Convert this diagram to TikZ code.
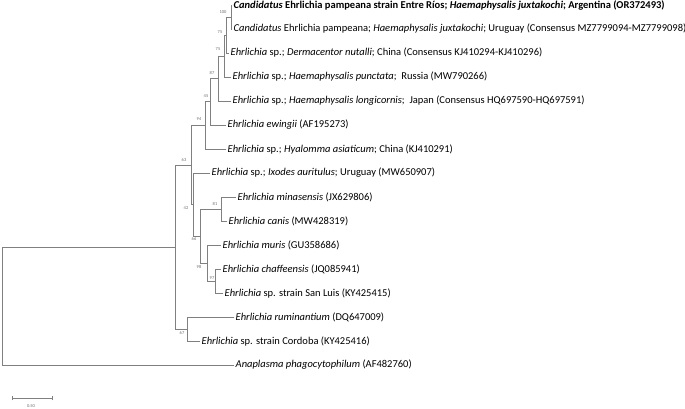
\documentclass[tikz,border=0pt]{standalone}
\usepackage{fontspec}
\setmainfont{Carlito}
\definecolor{linegray}{RGB}{128,128,128}
\definecolor{bsgray}{RGB}{110,110,110}
\begin{document}
\begin{tikzpicture}[x=1pt,y=-1pt,
  br/.style={draw=linegray, line width=0.9pt, line cap=rect},
  lab/.style={anchor=west, inner xsep=1.5pt, inner ysep=0pt, font=\fontsize{10.5}{12}\selectfont, text=black},
  bs/.style={font=\fontsize{4.5}{5}\selectfont, text=bsgray, inner sep=0pt}]
\useasboundingbox (0,0) rectangle (685,408);
% internal nodes
\coordinate (n100) at (231,17);
\coordinate (n75a) at (226,35);
\coordinate (n75b) at (224,56);
\coordinate (n87)  at (218,78.5);
\coordinate (n45)  at (210,101.75);
\coordinate (n94)  at (205,125.4);
\coordinate (n81)  at (221,209);
\coordinate (n97)  at (215,281);
\coordinate (n98)  at (207,263);
\coordinate (n66)  at (200,236);
\coordinate (n42)  at (193,204.5);
\coordinate (n63)  at (191,165);
\coordinate (n67)  at (187,329);
\coordinate (nin)  at (175,247);
\coordinate (root) at (2,306);
% leaves
\node[lab] (l1) at (232,5) {\textbf{\textit{Candidatus} Ehrlichia pampeana strain Entre Ríos; \textit{Haemaphysalis juxtakochi}; Argentina (OR372493)}};
\node[lab] (l2) at (232,29) {\textit{Candidatus} Ehrlichia pampeana; \textit{Haemaphysalis juxtakochi}; Uruguay (Consensus MZ7799094-MZ7799098)};
\node[lab] (l3) at (229,53) {\textit{Ehrlichia} sp.; \textit{Dermacentor nutalli}; China (Consensus KJ410294-KJ410296)};
\node[lab] (l4) at (231,77) {\textit{Ehrlichia} sp.; \textit{Haemaphysalis punctata};\ \ Russia (MW790266)};
\node[lab] (l5) at (231,101) {\textit{Ehrlichia} sp.; \textit{Haemaphysalis longicornis};\ \ Japan (Consensus HQ697590-HQ697591)};
\node[lab] (l6) at (226,125) {\textit{Ehrlichia ewingii} (AF195273)};
\node[lab] (l7) at (226,149) {\textit{Ehrlichia} sp.; \textit{Hyalomma asiaticum}; China (KJ410291)};
\node[lab] (l8) at (210,173) {\textit{Ehrlichia} sp.; \textit{Ixodes auritulus}; Uruguay (MW650907)};
\node[lab] (l9) at (236,197) {\textit{Ehrlichia minasensis} (JX629806)};
\node[lab] (l10) at (227,221) {\textit{Ehrlichia canis} (MW428319)};
\node[lab] (l11) at (221,245) {\textit{Ehrlichia muris} (GU358686)};
\node[lab] (l12) at (221,269) {\textit{Ehrlichia chaffeensis} (JQ085941)};
\node[lab] (l13) at (223,293) {\textit{Ehrlichia} sp. strain San Luis (KY425415)};
\node[lab] (l14) at (234,317) {\textit{Ehrlichia ruminantium} (DQ647009)};
\node[lab] (l15) at (200,341) {\textit{Ehrlichia} sp. strain Cordoba (KY425416)};
\node[lab] (l16) at (234,365) {\textit{Anaplasma phagocytophilum} (AF482760)};
% branches
\draw[br] (n100) |- (l1.west); \draw[br] (n100) |- (l2.west);
\draw[br] (n75a) |- (n100);    \draw[br] (n75a) |- (l3.west);
\draw[br] (n75b) |- (n75a);    \draw[br] (n75b) |- (l4.west);
\draw[br] (n87) |- (n75b);     \draw[br] (n87) |- (l5.west);
\draw[br] (n45) |- (n87);      \draw[br] (n45) |- (l6.west);
\draw[br] (n94) |- (n45);      \draw[br] (n94) |- (l7.west);
\draw[br] (n81) |- (l9.west);  \draw[br] (n81) |- (l10.west);
\draw[br] (n97) |- (l12.west); \draw[br] (n97) |- (l13.west);
\draw[br] (n98) |- (l11.west); \draw[br] (n98) |- (n97);
\draw[br] (n66) |- (n81);      \draw[br] (n66) |- (n98);
\draw[br] (n42) |- (l8.west);  \draw[br] (n42) |- (n66);
\draw[br] (n63) |- (n94);      \draw[br] (n63) |- (n42);
\draw[br] (n67) |- (l14.west); \draw[br] (n67) |- (l15.west);
\draw[br] (nin) |- (n63);      \draw[br] (nin) |- (n67);
\draw[br] (root) |- (nin);     \draw[br] (root) |- (l16.west);
% bootstrap values
\node[bs] (b100) at (223,12) {100};
\node[bs] (b75a) at (220,32) {75};
\node[bs] (b75b) at (218,49) {75};
\node[bs] (b87) at (212,73) {87};
\node[bs] (b45) at (206,96) {45};
\node[bs] (b94) at (199,119) {94};
\node[bs] (b63) at (184,160) {63};
\node[bs] (b42) at (186,208) {42};
\node[bs] (b81) at (215,204) {81};
\node[bs] (b66) at (194,239) {66};
\node[bs] (b98) at (199,267) {98};
\node[bs] (b97) at (212,278) {97};
\node[bs] (b67) at (182,333) {67};
% scale bar
\coordinate (sb1) at (12,398);
\coordinate (sb2) at (52,398);
\draw[br, line width=0.7pt] (sb1) -- (sb2);
\draw[br, line width=0.7pt] ([yshift=2pt]sb1) -- ([yshift=-2pt]sb1);
\draw[br, line width=0.7pt] ([yshift=2pt]sb2) -- ([yshift=-2pt]sb2);
\node[bs] (sbl) at (31,406) {0.50};
\end{tikzpicture}
\end{document}
